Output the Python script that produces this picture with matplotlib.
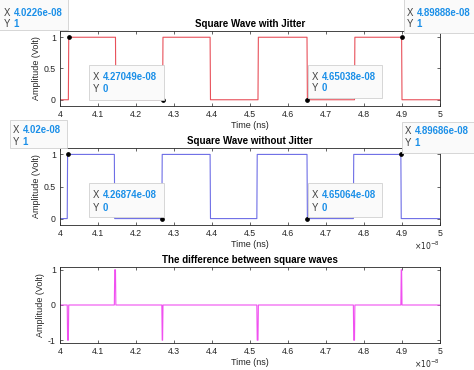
import numpy as np
import matplotlib
matplotlib.use("Agg")
import matplotlib.pyplot as plt
from matplotlib.patches import Rectangle
from matplotlib.ticker import FuncFormatter

# ---- data (seconds) ----
rise_jit = [4.0226e-8, 4.27049e-8, 4.5215e-8, 4.7755e-8]
fall_jit = [4.1465e-8, 4.3960e-8, 4.65030e-8, 4.8995e-8]
rise_ref = [4.0200e-8, 4.26874e-8, 4.5190e-8, 4.7730e-8]
fall_ref = [4.1440e-8, 4.3960e-8, 4.65060e-8, 4.8972e-8]

tip_jit_x = [4.0226e-8, 4.27049e-8, 4.65038e-8, 4.89888e-8]
tip_jit_y = [1, 0, 0, 1]
tip_ref_x = [4.02e-8, 4.26874e-8, 4.65064e-8, 4.89686e-8]
tip_ref_y = [1, 0, 0, 1]

t = np.linspace(4e-8, 5e-8, 1001)


def square(tt, rises, falls):
    v = np.zeros_like(tt)
    for r in rises:
        v += (tt >= r - 1e-15)
    for f in falls:
        v -= (tt >= f - 1e-15)
    return v


y_jit = square(t, rise_jit, fall_jit)
y_ref = square(t, rise_ref, fall_ref)
y_diff = y_jit - y_ref

W, H = 474, 370
fig = plt.figure(figsize=(W / 100, H / 100), dpi=100)
plt.rcParams['font.family'] = ['Liberation Sans', 'DejaVu Sans']

gray = '#262626'


def px_axes(x0, y0, x1, y1):
    return fig.add_axes([x0 / W, 1 - y1 / H, (x1 - x0) / W, (y1 - y0) / H])


def style(ax, title, yticks, ylim, offset=True):
    ax.set_xlim(4e-8, 5e-8)
    ax.set_ylim(*ylim)
    ax.set_xticks(np.arange(4.0, 5.01, 0.1) * 1e-8)
    ax.xaxis.set_major_formatter(FuncFormatter(lambda v, p: f"{v / 1e-8:.10g}"))
    ax.set_yticks(yticks)
    ax.yaxis.set_major_formatter(FuncFormatter(lambda v, p: f"{v:g}"))
    ax.tick_params(direction='in', top=True, right=True, length=2.5, width=0.5,
                   labelsize=6.3, colors=gray, pad=3)
    for s in ax.spines.values():
        s.set_linewidth(0.6)
        s.set_color(gray)
    ax.set_title(title, fontsize=7, fontweight='bold', pad=3)
    ax.set_xlabel('Time (ns)', fontsize=6.5, color=gray, labelpad=1)
    ax.set_ylabel('Amplitude (Volt)', fontsize=6.5, color=gray, labelpad=2)
    if offset:
        ax.text(1.0, -0.27, r'$\times10^{-8}$', transform=ax.transAxes, fontsize=5.5,
                color=gray, ha='right', va='center')


ax1 = px_axes(60, 31, 440, 106)
ax1.plot(t, y_jit, color='#e8505a', lw=0.8)
ax1.plot(tip_jit_x, tip_jit_y, 'o', color='k', ms=2.4, zorder=5)
style(ax1, 'Square Wave with Jitter', [0, 0.5, 1], (-0.1, 1.1), offset=False)

ax2 = px_axes(60, 148, 440, 225)
ax2.plot(t, y_ref, color='#6e6ee6', lw=0.8)
ax2.plot(tip_ref_x, tip_ref_y, 'o', color='k', ms=2.4, zorder=5)
style(ax2, 'Square Wave without Jitter', [0, 0.5, 1], (-0.1, 1.1))

ax3 = px_axes(60, 267, 440, 343)
ax3.plot(t, y_diff, color='#f050f0', lw=0.8)
style(ax3, 'The difference between square waves', [-1, 0, 1], (-1.08, 1.08))


def datatip(box, tx, ly1, ly2, xval, yval):
    x0, y0, x1, y1 = box
    r = Rectangle((x0 / W, 1 - y1 / H), (x1 - x0) / W, (y1 - y0) / H,
                  transform=fig.transFigure, facecolor='#fafafa',
                  edgecolor='#d0d0d0', lw=0.6, zorder=10)
    fig.patches.append(r)
    fs = 6.9
    fig.text(tx / W, 1 - ly1 / H, 'X', fontsize=fs, color='#404040',
             va='center', ha='left', zorder=11)
    fig.text((tx + 9.5) / W, 1 - ly1 / H, f"{xval:g}", fontsize=fs, color='#1a8fe8',
             fontweight='bold', va='center', ha='left', zorder=11)
    fig.text(tx / W, 1 - ly2 / H, 'Y', fontsize=fs, color='#404040',
             va='center', ha='left', zorder=11)
    fig.text((tx + 9.5) / W, 1 - ly2 / H, f"{yval:g}", fontsize=fs, color='#1a8fe8',
             fontweight='bold', va='center', ha='left', zorder=11)


boxes_jit = [(-5, -5, 68, 30, 4, 13, 24), (89, 65, 164, 100, 93, 77, 89),
             (308, 65, 382, 98, 312, 77, 88), (404, -5, 480, 33, 407, 13, 24)]
boxes_ref = [(10, 120, 67, 148, 13, 130, 142), (89, 183, 164, 217, 93, 195, 208),
             (308, 183, 382, 217, 312, 195, 208), (402, 122, 480, 153, 405, 131, 143)]

for b, xv, yv in zip(boxes_jit, tip_jit_x, tip_jit_y):
    datatip(b[:4], b[4], b[5], b[6], xv, yv)
for b, xv, yv in zip(boxes_ref, tip_ref_x, tip_ref_y):
    datatip(b[:4], b[4], b[5], b[6], xv, yv)

fig.savefig('out.png', dpi=100)
